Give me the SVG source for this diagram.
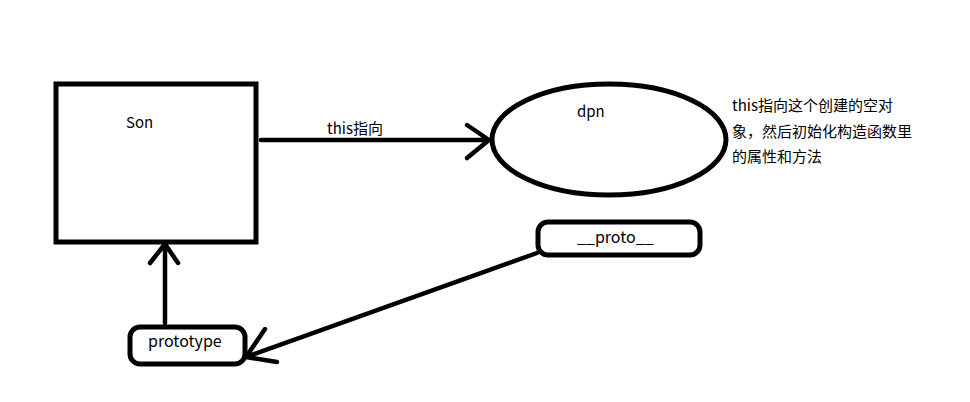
<svg xmlns="http://www.w3.org/2000/svg" width="970" height="402" viewBox="0 0 970 402">
<style>
.s{fill:#fff;stroke:#000;stroke-width:5}
.c{fill:none;stroke:#000;stroke-width:4.5;stroke-linecap:round;stroke-linejoin:round}
text{font-family:"Microsoft YaHei","Noto Sans CJK SC","Noto Sans",sans-serif;font-size:15px;fill:#000}
.w{font-size:16px}
</style>
<rect width="970" height="402" fill="#fff"/>
<g id="connectors">
<path class="c" d="M261 140 H489 M467 125 L489 140 L467 158"/>
<path class="c" d="M165 323 V244 M150 263 L165 244 L178 263"/>
<path class="c" d="M537 253 L246 357 M265 329 L246 357 L277 362"/>
</g>
<g id="son"><rect class="s" x="56" y="84" width="200" height="158"/><text x="126" y="128">Son</text></g>
<g id="dpn"><ellipse class="s" cx="609" cy="139.5" rx="117" ry="55.5" stroke-width="4.5"/><text x="577" y="117">dpn</text></g>
<g id="proto"><rect class="s" x="538" y="222" width="162" height="33" rx="10"/><text class="w" x="577" y="243">__proto__</text></g>
<g id="prototype"><rect class="s" x="130" y="327" width="115" height="37" rx="10"/><text class="w" x="148" y="347">prototype</text></g>
<g id="label-this"><text x="327" y="134">this指向</text></g>
<g id="note">
<text x="732" y="111">this指向这个创建的空对</text>
<text x="732" y="137">象，然后初始化构造函数里</text>
<text x="732" y="162">的属性和方法</text>
</g>
</svg>
